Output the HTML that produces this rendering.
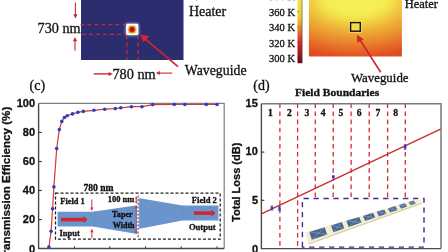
<!DOCTYPE html>
<html><head><meta charset="utf-8">
<style>
html,body{margin:0;padding:0;background:#fff;width:448px;height:252px;overflow:hidden}
svg{display:block}
.serif{font-family:"Liberation Serif",serif}
.sans{font-family:"Liberation Sans",sans-serif}
text{stroke:#111;stroke-width:0.3px;paint-order:stroke}
.b text, text.b{stroke-width:0.2px}
</style></head>
<body>
<svg width="448" height="252" viewBox="0 0 448 252">
<defs>
  <radialGradient id="spot" cx="132.1" cy="29.5" r="5.4" gradientUnits="userSpaceOnUse">
    <stop offset="0" stop-color="#7a0808"/>
    <stop offset="0.2" stop-color="#a81010"/>
    <stop offset="0.42" stop-color="#d82018"/>
    <stop offset="0.6" stop-color="#f08420"/>
    <stop offset="0.74" stop-color="#f4e040"/>
    <stop offset="0.86" stop-color="#b0dc90"/>
    <stop offset="1" stop-color="#f4fcf4"/>
  </radialGradient>
  <filter id="glow" x="-1" y="-1" width="3" height="3"><feGaussianBlur stdDeviation="0.9"/></filter>
  <filter id="soft" x="-1" y="-1" width="3" height="3"><feGaussianBlur stdDeviation="0.35"/></filter>
  <radialGradient id="heat" cx="356" cy="-4" r="62" gradientUnits="userSpaceOnUse" gradientTransform="translate(356 -4) scale(1.65 1) translate(-356 4)">
    <stop offset="0" stop-color="#f8f25c"/>
    <stop offset="0.3" stop-color="#f5ec52"/>
    <stop offset="0.38" stop-color="#f3de48"/>
    <stop offset="0.48" stop-color="#f0c440"/>
    <stop offset="0.62" stop-color="#eca434"/>
    <stop offset="0.76" stop-color="#e8842c"/>
    <stop offset="0.9" stop-color="#e46226"/>
    <stop offset="1" stop-color="#e04c20"/>
  </radialGradient>
  <linearGradient id="cbar" x1="0" y1="0" x2="0" y2="1">
    <stop offset="0" stop-color="#f2e444"/>
    <stop offset="0.215" stop-color="#f0d63a"/>
    <stop offset="0.337" stop-color="#eebc32"/>
    <stop offset="0.445" stop-color="#e8922a"/>
    <stop offset="0.552" stop-color="#e06022"/>
    <stop offset="0.675" stop-color="#d62a28"/>
    <stop offset="0.828" stop-color="#aa1a20"/>
    <stop offset="1" stop-color="#5c0c12"/>
  </linearGradient>
</defs>

<!-- ============ Panel (a) ============ -->
<rect x="81" y="-2" width="102.5" height="62" fill="#2c2d6e"/>
<rect x="125.2" y="23" width="14" height="12.9" rx="2" fill="#7f90d8" filter="url(#glow)"/>
<rect x="126.1" y="23.8" width="12.2" height="11.3" rx="1.3" fill="#fff" filter="url(#soft)"/>
<rect x="127.6" y="25.3" width="9" height="8.5" rx="1.6" fill="url(#spot)" filter="url(#soft)"/>
<g stroke="#c8283a" stroke-width="1.25" fill="none">
  <line x1="80.5" y1="24.7" x2="126.2" y2="24.7" stroke-dasharray="3.75 3.25"/>
  <line x1="82.1" y1="34.4" x2="126.2" y2="34.4" stroke-dasharray="3.75 3.25"/>
  <line x1="126.9" y1="35" x2="126.9" y2="60" stroke-dasharray="4.4 3"/>
  <line x1="138.1" y1="35" x2="138.1" y2="60" stroke-dasharray="4.4 3"/>
</g>
<g fill="#d0262c" stroke="#d0262c">
  <line x1="75.4" y1="2.5" x2="75.4" y2="15" stroke-width="1.1"/>
  <polygon points="73.3,14.2 77.6,14.2 75.4,18.6" stroke="none"/>
  <line x1="75" y1="40" x2="75" y2="50.8" stroke-width="1.1"/>
  <polygon points="72.9,41.2 77.1,41.2 75,37" stroke="none"/>
  <line x1="93.8" y1="73.9" x2="109.5" y2="73.9" stroke-width="1.4"/>
  <polygon points="108.6,71.9 108.6,75.9 112.9,73.9" stroke="none"/>
  <line x1="159" y1="73.1" x2="172.2" y2="73.1" stroke-width="1.1"/>
  <polygon points="159.8,71.1 159.8,75.1 155.8,73.1" stroke="none"/>
  <line x1="178" y1="66.6" x2="145" y2="38.8" stroke-width="1.7"/>
  <polygon points="140.4,34.3 149.3,36.2 143.4,42.6" stroke="none"/>
</g>
<text class="serif" x="37.6" y="32.6" font-size="14.2" fill="#111">730 nm</text>
<text class="serif" x="112.4" y="78.6" font-size="14.3" fill="#111">780 nm</text>
<text class="serif" x="188.9" y="15.9" font-size="14" fill="#111">Heater</text>
<line x1="196.5" y1="-2" x2="196.5" y2="0.7" stroke="#e05050" stroke-width="1"/>
<text class="serif" x="184.8" y="74.6" font-size="13.8" fill="#111">Waveguide</text>

<!-- ============ Panel (b) ============ -->
<rect x="297.5" y="-2" width="4.8" height="65.2" fill="url(#cbar)"/>
<line x1="302" y1="-2" x2="302" y2="63.2" stroke="#555" stroke-width="0.6"/>
<g stroke="#333" stroke-width="0.7"><line x1="297.5" y1="11.6" x2="298.8" y2="11.6"/><line x1="297.5" y1="27" x2="298.8" y2="27"/><line x1="297.5" y1="42.2" x2="298.8" y2="42.2"/><line x1="297.5" y1="57.6" x2="298.8" y2="57.6"/></g>
<rect x="308.9" y="-2" width="93" height="58.5" fill="url(#heat)"/>
<rect x="350.6" y="22.6" width="9.7" height="8.6" fill="#f2e24a" stroke="#f3e04c" stroke-width="3.6" opacity="0.8"/>
<rect x="350.6" y="22.6" width="9.7" height="8.6" fill="none" stroke="#151515" stroke-width="1.4"/>
<g class="serif" font-size="10.5" fill="#111" text-anchor="end">
  <text x="295" y="0.2">380 K</text>
  <text x="295" y="16.3">360 K</text>
  <text x="295" y="31.4">340 K</text>
  <text x="295" y="46.5">320 K</text>
  <text x="295" y="62.3">300 K</text>
</g>
<g fill="#d0262c" stroke="#d0262c">
  <line x1="380.7" y1="72.2" x2="360" y2="40" stroke-width="1.6"/>
  <polygon points="356.8,34.8 363.6,39.2 357.4,42.8" stroke="none"/>
</g>
<text class="serif" x="404.7" y="7.8" font-size="12.5" fill="#111">Heater</text>
<text class="serif" x="350.9" y="81.7" font-size="12.9" fill="#111">Waveguide</text>

<!-- ============ Panel (c) ============ -->
<text class="serif" x="29.5" y="90" font-size="14" fill="#111">(c)</text>
<path d="M38.6 103.4H224.2V248.5" fill="none" stroke="#7e7e7e" stroke-width="1.2"/>
<path d="M38.6 103.4V248.5H224.2" fill="none" stroke="#4a4a4a" stroke-width="1.4"/>
<g stroke="#333" stroke-width="1.1">
  <line x1="38.6" y1="132.4" x2="41.8" y2="132.4"/>
  <line x1="38.6" y1="161.5" x2="41.8" y2="161.5"/>
  <line x1="38.6" y1="190.5" x2="41.8" y2="190.5"/>
  <line x1="38.6" y1="219.6" x2="41.8" y2="219.6"/>
  <line x1="74.5" y1="248.5" x2="74.5" y2="246.2" stroke-width="0.9"/>
  <line x1="109.8" y1="248.5" x2="109.8" y2="246.2" stroke-width="0.9"/>
  <line x1="145.5" y1="248.5" x2="145.5" y2="246.2" stroke-width="0.9"/>
  <line x1="181.2" y1="248.5" x2="181.2" y2="246.2" stroke-width="0.9"/>
  <line x1="217" y1="248.5" x2="217" y2="246.2" stroke-width="0.9"/>
</g>
<g class="sans" font-weight="bold" font-size="11" fill="#111" text-anchor="end">
  <text x="35.1" y="106.8">100</text>
  <text x="35.1" y="135.8">80</text>
  <text x="35.1" y="164.9">60</text>
  <text x="35.1" y="193.9">40</text>
  <text x="35.1" y="223">20</text>
  <text x="35.1" y="252.5">0</text>
</g>
<text class="sans" font-weight="bold" font-size="11.2" fill="#111" text-anchor="end" textLength="154.3" lengthAdjust="spacingAndGlyphs" transform="translate(10 106.7) rotate(-90)">Transmission Efficiency (%)</text>

<!-- inset (c) -->
<rect x="55.5" y="193.2" width="164.7" height="46" fill="#fff" stroke="#1e1e1e" stroke-width="1.25" stroke-dasharray="3 2"/>
<g fill="#6a95cc">
  <polygon points="57.6,211.7 92.6,211.7 137.2,205.2 137.2,234.1 92.6,226.4 57.6,226.4"/>
  <polygon points="138.4,198 182.5,205.5 218.5,205.5 218.5,220.4 182.5,220.4 138.4,228.9"/>
</g>
<line x1="94.6" y1="211.4" x2="94.6" y2="226.7" stroke="#5f89c2" stroke-width="0.5"/>
<line x1="182.6" y1="205.6" x2="182.6" y2="220.3" stroke="#5f89c2" stroke-width="0.5"/>
<line x1="138.1" y1="195.5" x2="138.1" y2="239" stroke="#fff" stroke-width="2"/>
<line x1="138.1" y1="195.5" x2="138.1" y2="239" stroke="#555" stroke-width="1.1" stroke-dasharray="2.2 1.4"/>
<g fill="#d0262c" stroke="#d0262c">
  <line x1="61" y1="219.6" x2="83.4" y2="219.6" stroke-width="3.6"/>
  <polygon points="83.3,216 83.3,223.3 87.7,219.6" stroke="none"/>
  <line x1="193.9" y1="213.1" x2="211.4" y2="213.1" stroke-width="3.5"/>
  <polygon points="211.3,209.6 211.3,216.7 215.4,213.1" stroke="none"/>
  <line x1="91.8" y1="199.6" x2="91.8" y2="208" stroke-width="0.9"/>
  <polygon points="90.2,207.4 93.4,207.4 91.8,210.7" stroke="none"/>
  <line x1="91.9" y1="231.5" x2="91.9" y2="238.2" stroke-width="0.9"/>
  <polygon points="90.3,232.2 93.5,232.2 91.9,228.8" stroke="none"/>
  <line x1="136.2" y1="197" x2="136.2" y2="203" stroke-width="0.9"/>
  <polygon points="135.1,198.6 137.3,198.6 136.2,196.2" stroke="none"/>
  <polygon points="135.1,201.6 137.3,201.6 136.2,203.8" stroke="none"/>
  <line x1="136.2" y1="206" x2="136.2" y2="233.6" stroke="#a8607e" stroke-width="1.3"/>
  <polygon points="135,208.2 137.4,208.2 136.2,205.6" stroke="none"/>
  <polygon points="135,231.4 137.4,231.4 136.2,234" stroke="none"/>
</g>
<g class="serif" font-weight="bold" fill="#111">
  <text x="83.5" y="190.8" font-size="9.6">780 nm</text>
  <text x="60.3" y="203.5" font-size="8.4">Field 1</text>
  <text x="59.4" y="235.7" font-size="8.5">Input</text>
  <text x="107.7" y="201.8" font-size="8.5">100 nm</text>
  <text x="112.1" y="217.3" font-size="8.2">Taper</text>
  <text x="112.7" y="227.7" font-size="8.1">Width</text>
  <text x="191.8" y="202.9" font-size="8.6">Field 2</text>
  <text x="188.9" y="230.3" font-size="8.6">Output</text>
</g>

<!-- data (c) -->
<polyline fill="none" stroke="#d43a3a" stroke-width="1.2" stroke-linejoin="round"
 points="48.9,247 51.1,231.3 52.6,208.7 53.9,186.9 56.7,148.6 59.3,129.6 61.8,121.4 64.4,117.5 67.2,115.7 72.5,113.9 77.9,112.3 83.3,111.4 93.9,110.3 104.7,109.2 115.3,108.6 120.8,107.8 131.4,106.7 142,106.7 152.7,104.6 174.3,104.5 184.8,104.5 206.3,104.5 217,104.5"/>
<g fill="#2a3ec0">
  <circle cx="48.9" cy="247" r="1.8"/><circle cx="51.1" cy="231.3" r="1.8"/><circle cx="52.6" cy="208.7" r="1.8"/>
  <circle cx="53.9" cy="186.9" r="1.8"/><circle cx="56.7" cy="148.6" r="1.8"/><circle cx="59.3" cy="129.6" r="1.8"/>
  <circle cx="61.8" cy="121.4" r="1.8"/><circle cx="64.4" cy="117.5" r="1.8"/><circle cx="67.2" cy="115.7" r="1.8"/>
  <circle cx="72.5" cy="113.9" r="1.8"/><circle cx="77.9" cy="112.3" r="1.8"/><circle cx="83.3" cy="111.4" r="1.8"/>
  <circle cx="93.9" cy="110.3" r="1.8"/><circle cx="104.7" cy="109.2" r="1.8"/><circle cx="115.3" cy="108.6" r="1.8"/>
  <circle cx="120.8" cy="107.8" r="1.8"/><circle cx="131.4" cy="106.7" r="1.8"/><circle cx="142" cy="106.7" r="1.8"/>
  <circle cx="152.7" cy="104.6" r="1.8"/><circle cx="174.3" cy="104.5" r="1.8"/><circle cx="184.8" cy="104.5" r="1.8"/>
  <circle cx="206.3" cy="104.5" r="1.8"/><circle cx="217" cy="104.5" r="1.8"/>
</g>

<!-- ============ Panel (d) ============ -->
<text class="serif" x="253.3" y="90.3" font-size="14" fill="#111">(d)</text>
<text class="serif" font-weight="bold" x="294.9" y="96.1" font-size="11.2" textLength="84.3" lengthAdjust="spacingAndGlyphs" fill="#111">Field Boundaries</text>
<g stroke="#d62a36" stroke-width="1.3" stroke-dasharray="4.6 3.5" fill="none">
  <line x1="279.9" y1="103.4" x2="279.9" y2="248.5"/>
  <line x1="297.6" y1="103.4" x2="297.6" y2="248.5"/>
  <line x1="315.3" y1="103.4" x2="315.3" y2="248.5"/>
  <line x1="333.2" y1="103.4" x2="333.2" y2="248.5"/>
  <line x1="351.1" y1="103.4" x2="351.1" y2="248.5"/>
  <line x1="369.2" y1="103.4" x2="369.2" y2="248.5"/>
  <line x1="387.6" y1="103.4" x2="387.6" y2="248.5"/>
  <line x1="405.3" y1="103.4" x2="405.3" y2="248.5"/>
</g>
<line x1="261.4" y1="213.9" x2="441" y2="128.9" stroke="#cc2a2a" stroke-width="1.3"/>
<g fill="#2a3ec0" stroke="#2a3ec0" stroke-width="0.9">
  <path d="M270.6 206.1h2.6M270.6 210h2.6M271.9 206.1v3.9" fill="none"/>
  <rect x="270.7" y="206.8" width="2.4" height="2.4" stroke="none"/>
  <path d="M278.2 206.6h2.6M278.2 210.4h2.6M279.5 206.6v3.8" fill="none"/>
  <rect x="278.3" y="207.3" width="2.4" height="2.4" stroke="none"/>
  <rect x="331.9" y="175.3" width="2.8" height="2.8" stroke="none"/>
  <rect x="403.8" y="145.8" width="2.6" height="2.6" stroke="none"/>
  <path d="M403.8 145h2.6M403.8 149.2h2.6M405.1 145v4.2" fill="none"/>
</g>
<!-- inset (d) -->
<path d="M302.4 247.1V198.5H424V247.1Z" fill="#fff" stroke="#4b2590" stroke-width="1.4" stroke-dasharray="5.3 4.65"/>
<g>
  <polygon points="308.4,243.2 421.6,202.5 421.4,203.9 308.7,244.6" fill="#d6c99c"/>
  <polygon points="305.2,232.6 418.6,198.9 421.6,202.5 308.4,243.2" fill="#f4edd0"/>
  <g fill="#486790">
    <polygon points="309.4,231.9 324.7,227.3 327.1,234.4 311.8,239.7"/>
    <polygon points="331.0,225.4 341.9,222.1 344.3,228.4 333.4,232.2"/>
    <polygon points="346.3,220.8 359.2,217.0 361.5,222.4 348.6,226.9"/>
    <polygon points="362.9,215.9 373.0,212.8 375.3,217.6 365.2,221.1"/>
    <polygon points="376.7,211.7 384.1,209.5 386.4,213.8 379.0,216.4"/>
    <polygon points="387.8,208.4 395.2,206.1 397.5,209.9 390.1,212.5"/>
    <polygon points="398.9,205.0 404.9,203.2 407.2,206.6 401.2,208.7"/>
    <polygon points="408.6,202.1 413.5,200.6 415.8,203.6 410.9,205.3"/>
  </g>
  <path d="M309.4 231.9L327.1 234.4M324.7 227.3L311.8 239.7M331.0 225.4L344.3 228.4M341.9 222.1L333.4 232.2M346.3 220.8L361.5 222.4M359.2 217.0L348.6 226.9M362.9 215.9L375.3 217.6M373.0 212.8L365.2 221.1M376.7 211.7L386.4 213.8M384.1 209.5L379.0 216.4M387.8 208.4L397.5 209.9M395.2 206.1L390.1 212.5M398.9 205.0L407.2 206.6M404.9 203.2L401.2 208.7M408.6 202.1L415.8 203.6M413.5 200.6L410.9 205.3" stroke="#9fb2cc" stroke-width="0.6" fill="none" opacity="0.85"/>
</g>

<!-- axes (d) -->
<path d="M261.4 103.7H441V248.6" fill="none" stroke="#7a7a7a" stroke-width="1.5"/>
<path d="M261.4 103.7V248.6H441" fill="none" stroke="#4a4a4a" stroke-width="1.4"/>
<g stroke="#333" stroke-width="1.1">
  <line x1="261.4" y1="152.1" x2="264.3" y2="152.1"/>
  <line x1="261.4" y1="200.3" x2="264.3" y2="200.3"/>
</g>
<g class="sans" font-weight="bold" font-size="11" fill="#111" text-anchor="end">
  <text x="257.8" y="106.7">15</text>
  <text x="257.8" y="155.3">10</text>
  <text x="258.1" y="204">5</text>
  <text x="258.1" y="252.5">0</text>
</g>
<text class="sans" font-weight="bold" font-size="11" fill="#111" text-anchor="middle" transform="translate(239.7 182.3) rotate(-90)">Total Loss (dB)</text>
<g class="serif" font-weight="bold" font-size="9.6" fill="#111" text-anchor="middle">
  <text x="270.4" y="116">1</text>
  <text x="289.3" y="116">2</text>
  <text x="307" y="116">3</text>
  <text x="323.2" y="116">4</text>
  <text x="340.8" y="116">5</text>
  <text x="359.1" y="116">6</text>
  <text x="377.8" y="116">7</text>
  <text x="395.7" y="116">8</text>
</g>
</svg>
</body></html>
